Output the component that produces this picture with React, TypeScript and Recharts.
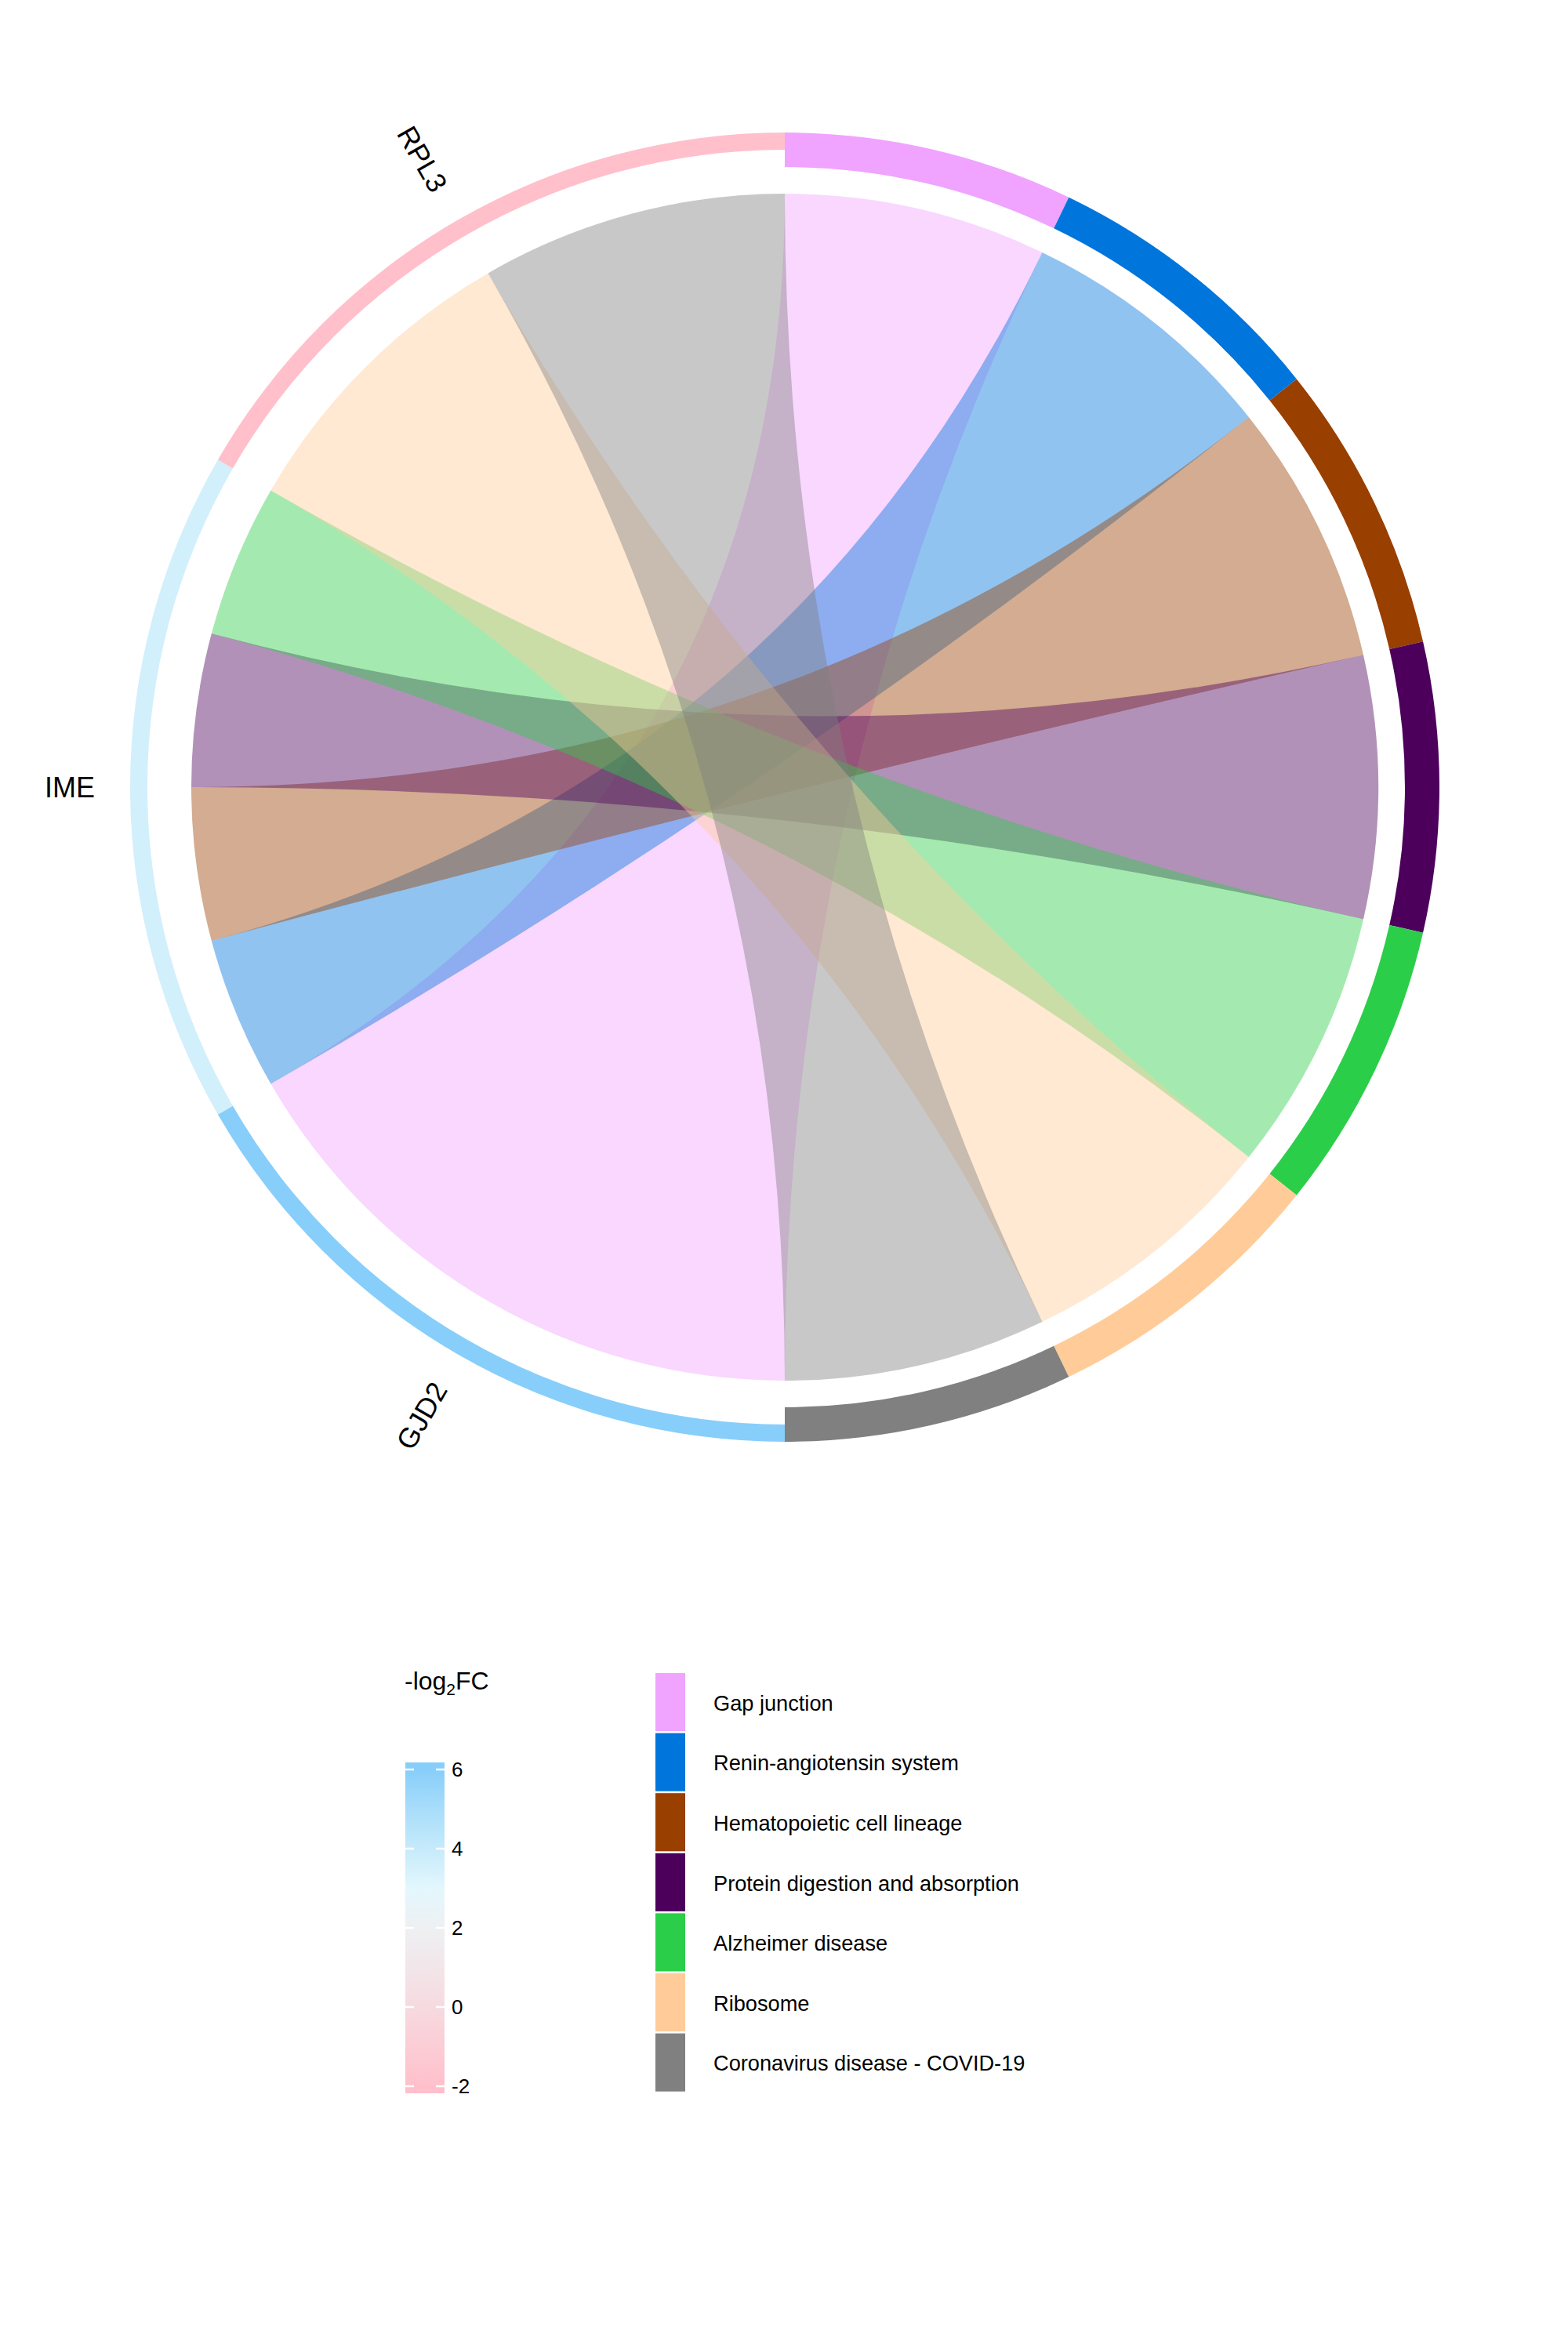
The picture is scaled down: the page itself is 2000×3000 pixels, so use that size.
import { PieChart, Pie, Cell, Customized } from "recharts"

// pathways (right half) and their colours
const pathways = [
  "Gap junction",
  "Renin-angiotensin system",
  "Hematopoietic cell lineage",
  "Protein digestion and absorption",
  "Alzheimer disease",
  "Ribosome",
  "Coronavirus disease - COVID-19",
]
const pathwayColors = ["#F0A3FF", "#0075DC", "#993F00", "#4C005C", "#2BCE48", "#FFCC99", "#808080"]

// genes (left half) and their -log2FC
const genes = ["GJD2", "IME", "RPL3"]
const geneLogFC = [6, 3.6, -2]

// gene -> pathway links
const linkGenes = ["GJD2", "IME", "IME", "IME", "IME", "RPL3", "RPL3"]
const linkPathways = [
  "Gap junction",
  "Renin-angiotensin system",
  "Hematopoietic cell lineage",
  "Protein digestion and absorption",
  "Alzheimer disease",
  "Ribosome",
  "Coronavirus disease - COVID-19",
]

// colour bar
const fcTicks = [6, 4, 2, 0, -2]
const fcStops = [-2, -1, 0, 1, 2, 3, 4, 5, 6]
const fcColors = ["#FFC0CB", "#FBCDD5", "#F6DAE0", "#F2E6EA", "#EEF0F2", "#E3F7FD", "#C6EAFB", "#A8DDFA", "#88CEFA"]

const FONT = "'Liberation Sans', Arial, sans-serif"
const CX = 1001
const CY = 1004
const R_OUT = 835
const R_PATH_IN = 791
const R_GENE_IN = 813
const R_RIBBON = 757
const LABEL_R = 880
const RIBBON_ALPHA = 0.43

function hex(c: string) {
  return [1, 3, 5].map((i) => parseInt(c.slice(i, i + 2), 16))
}

function fcColor(v: number) {
  if (v <= fcStops[0]) return fcColors[0]
  for (let i = 1; i < fcStops.length; i++) {
    if (v <= fcStops[i]) {
      const t = (v - fcStops[i - 1]) / (fcStops[i] - fcStops[i - 1])
      const a = hex(fcColors[i - 1])
      const b = hex(fcColors[i])
      const m = a.map((x, k) => Math.round(x + (b[k] - x) * t))
      return `rgb(${m[0]},${m[1]},${m[2]})`
    }
  }
  return fcColors[fcColors.length - 1]
}

const geneSpan = 180 / genes.length
const pathwaySpan = 180 / pathways.length

const geneData = genes.map((g, i) => ({ name: g, value: 1, fill: fcColor(geneLogFC[i]) }))
const pathwayData = pathways.map((p, i) => ({ name: p, value: 1, fill: pathwayColors[i] }))

// degrees clockwise from 12 o'clock
function pt(deg: number, r: number) {
  const a = (deg * Math.PI) / 180
  return [CX + r * Math.sin(a), CY - r * Math.cos(a)]
}

function ribbonPath(k: number) {
  const gi = genes.indexOf(linkGenes[k])
  const sameGene = linkGenes.map((g, j) => j).filter((j) => linkGenes[j] === linkGenes[k])
  const gPos = sameGene.indexOf(k)
  const g0 = 180 + gi * geneSpan + (gPos * geneSpan) / sameGene.length
  const g1 = g0 + geneSpan / sameGene.length

  const pj = pathways.indexOf(linkPathways[k])
  const samePath = linkPathways.map((p, j) => j).filter((j) => linkPathways[j] === linkPathways[k])
  const pPos = samePath.indexOf(k)
  const p0 = pj * pathwaySpan + (pPos * pathwaySpan) / samePath.length
  const p1 = p0 + pathwaySpan / samePath.length

  const [a0x, a0y] = pt(g0, R_RIBBON)
  const [a1x, a1y] = pt(g1, R_RIBBON)
  const [b0x, b0y] = pt(p0, R_RIBBON)
  const [b1x, b1y] = pt(p1, R_RIBBON)
  const R = R_RIBBON
  return `M ${a0x} ${a0y} A ${R} ${R} 0 0 1 ${a1x} ${a1y} Q ${CX} ${CY} ${b0x} ${b0y} A ${R} ${R} 0 0 1 ${b1x} ${b1y} Q ${CX} ${CY} ${a0x} ${a0y} Z`
}

function Ribbons() {
  return (
    <g>
      {linkGenes.map((g, k) => (
        <path
          key={k}
          d={ribbonPath(k)}
          fill={pathwayColors[pathways.indexOf(linkPathways[k])]}
          fillOpacity={RIBBON_ALPHA}
          stroke="none"
        />
      ))}
    </g>
  )
}

function GeneLabels() {
  return (
    <g>
      {genes.map((g, i) => {
        const mid = 180 + (i + 0.5) * geneSpan
        const [x, y] = pt(mid, LABEL_R)
        return (
          <text
            key={g}
            x={x}
            y={y}
            textAnchor="end"
            dominantBaseline="central"
            transform={`rotate(${mid - 270} ${x} ${y})`}
            fontFamily={FONT}
            fontSize={36}
            fill="#000"
          >
            {g}
          </text>
        )
      })}
    </g>
  )
}

// colour bar legend
const BAR_X = 517
const BAR_W = 50
const BAR_TOP = 2248
const BAR_BOTTOM = 2670
const TICK_TOP_Y = 2257
const PX_PER_UNIT = 50.5
const vTop = 6 + (TICK_TOP_Y - BAR_TOP) / PX_PER_UNIT
const vBottom = -2 - (BAR_BOTTOM - (TICK_TOP_Y + 8 * PX_PER_UNIT)) / PX_PER_UNIT

function ColourBar() {
  return (
    <g fontFamily={FONT}>
      <defs>
        <linearGradient id="fcGrad" x1="0" y1="1" x2="0" y2="0">
          {fcStops.map((v, i) => (
            <stop key={v} offset={(v - vBottom) / (vTop - vBottom)} stopColor={fcColors[i]} />
          ))}
        </linearGradient>
      </defs>
      <text x={516} y={2155} fontSize={32} fill="#000">
        -log<tspan fontSize={21} dy={7}>2</tspan>
        <tspan dy={-7}>FC</tspan>
      </text>
      <rect x={BAR_X} y={BAR_TOP} width={BAR_W} height={BAR_BOTTOM - BAR_TOP} fill="url(#fcGrad)" />
      {fcTicks.map((v) => {
        const y = TICK_TOP_Y + (6 - v) * PX_PER_UNIT
        return (
          <g key={v}>
            <line x1={BAR_X} x2={BAR_X + 11} y1={y} y2={y} stroke="#fff" strokeWidth={2.5} />
            <line x1={BAR_X + BAR_W - 11} x2={BAR_X + BAR_W} y1={y} y2={y} stroke="#fff" strokeWidth={2.5} />
            <text x={576} y={y} fontSize={26} dominantBaseline="central" fill="#000">
              {v}
            </text>
          </g>
        )
      })}
    </g>
  )
}

// pathway legend
const KEY_X = 836
const KEY_W = 38
const KEY_TOP = 2134
const KEY_STEP = 76.6

function PathwayLegend() {
  return (
    <g fontFamily={FONT}>
      {pathways.map((p, i) => {
        const y = KEY_TOP + i * KEY_STEP
        return (
          <g key={p}>
            <rect x={KEY_X} y={y} width={KEY_W} height={KEY_STEP - 2.5} fill={pathwayColors[i]} />
            <text x={910} y={y + KEY_STEP / 2} fontSize={27.2} dominantBaseline="central" fill="#000">
              {p}
            </text>
          </g>
        )
      })}
    </g>
  )
}

export default function App() {
  return (
    <div style={{ position: "absolute", left: 0, top: 0, width: 2000, height: 3000, background: "#fff" }}>
      <PieChart width={2000} height={3000} margin={{ top: 0, right: 0, bottom: 0, left: 0 }}>
        <Customized component={Ribbons} />
        <Pie
          data={pathwayData}
          dataKey="value"
          cx={CX}
          cy={CY}
          innerRadius={R_PATH_IN}
          outerRadius={R_OUT}
          startAngle={90}
          endAngle={-90}
          paddingAngle={0}
          stroke="none"
          isAnimationActive={false}
        >
          {pathwayData.map((d) => (
            <Cell key={d.name} fill={d.fill} />
          ))}
        </Pie>
        <Pie
          data={geneData}
          dataKey="value"
          cx={CX}
          cy={CY}
          innerRadius={R_GENE_IN}
          outerRadius={R_OUT}
          startAngle={-90}
          endAngle={-270}
          paddingAngle={0}
          stroke="none"
          isAnimationActive={false}
        >
          {geneData.map((d) => (
            <Cell key={d.name} fill={d.fill} />
          ))}
        </Pie>
        <Customized component={GeneLabels} />
        <Customized component={ColourBar} />
        <Customized component={PathwayLegend} />
      </PieChart>
    </div>
  )
}
